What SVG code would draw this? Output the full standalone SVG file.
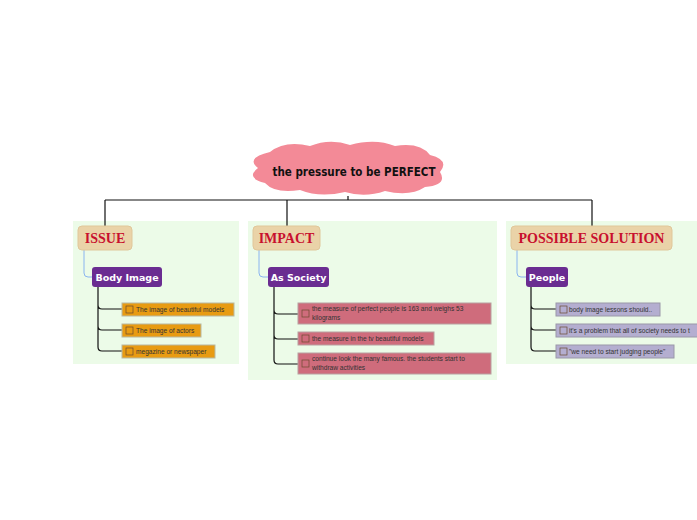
<svg xmlns="http://www.w3.org/2000/svg" width="697" height="520" viewBox="0 0 697 520">
<style>
.panel{fill:#ecfbe8}
.cat{fill:#ead3a8;stroke:#e0c79a}
.catt{font-family:"Liberation Serif",serif;font-weight:bold;font-size:14px;fill:#c8102e}
.sub{fill:#6a2c91}
.subt{font-family:"DejaVu Sans",sans-serif;font-weight:bold;font-size:9.5px;fill:#fff}
.or{fill:#e89b12;stroke:#b8b8a0}
.pk{fill:#cf6c7c;stroke:#b8a0a0}
.lv{fill:#b4aed0;stroke:#9a98a8}
.it{font-family:"Liberation Sans",sans-serif;font-size:6.6px;fill:#333}
.cb{fill:none;stroke:#6a4a30;stroke-width:0.7}
.ln{fill:none;stroke:#111;stroke-width:1.2}
.bl{fill:none;stroke:#8ab4f0;stroke-width:1}
</style>
<rect class="panel" x="73" y="221" width="166" height="143"/>
<rect class="panel" x="248" y="221" width="249" height="159"/>
<rect class="panel" x="506" y="221" width="191" height="143"/>
<g id="connectors">
<path class="ln" d="M348 196V200M105 200H592M105 200V226M287 200V226M592 200V226"/>
<path class="bl" d="M84 250V273Q84 277 88 277H92M259 250V273Q259 277 263 277H268M517 250V273Q517 277 521 277H526"/>
<path class="ln" d="M98 287V347Q98 351 102 351H122M98 326Q98 330 102 330H122M98 305Q98 309 102 309H122"/>
<path class="ln" d="M274 287V360Q274 364 278 364H298M274 335Q274 339 278 339H298M274 310Q274 314 278 314H298"/>
<path class="ln" d="M531 287V347Q531 351 535 351H556M531 326Q531 330 535 330H556M531 305Q531 309 535 309H556"/>
</g>
<g id="root">
<path d="M270 152Q285 140 310 146Q330 138 350 145Q375 138 395 146Q420 142 430 155Q450 160 440 172Q448 185 425 187Q410 197 385 191Q365 198 345 192Q320 198 300 190Q275 194 265 183Q245 178 258 168Q245 158 270 152Z" fill="#f38a97"/>
<text x="354" y="176" text-anchor="middle" font-family="'DejaVu Sans Condensed','DejaVu Sans',sans-serif" font-weight="bold" font-size="11.5" fill="#111">the pressure to be PERFECT</text>
</g>
<g id="issue"><rect class="cat" x="78" y="226" width="54" height="24" rx="4"/><text class="catt" x="105" y="243" text-anchor="middle">ISSUE</text></g>
<g id="impact"><rect class="cat" x="253" y="226" width="67" height="24" rx="4"/><text class="catt" x="286.5" y="243" text-anchor="middle">IMPACT</text></g>
<g id="solution"><rect class="cat" x="511" y="226" width="161" height="24" rx="4"/><text class="catt" x="591.5" y="243" text-anchor="middle">POSSIBLE SOLUTION</text></g>
<g id="bodyimage"><rect class="sub" x="92" y="267" width="70" height="20" rx="3"/><text class="subt" x="127" y="281" text-anchor="middle">Body Image</text></g>
<g id="associety"><rect class="sub" x="268" y="267" width="61" height="20" rx="3"/><text class="subt" x="298.5" y="281" text-anchor="middle">As Society</text></g>
<g id="people"><rect class="sub" x="526" y="267" width="42" height="20" rx="3"/><text class="subt" x="547" y="281" text-anchor="middle">People</text></g>
<g id="i1"><rect class="or" x="122" y="303" width="112" height="13"/><rect class="cb" x="126" y="306" width="7" height="7"/><text class="it" x="136" y="312">The image of beautiful models</text></g>
<g id="i2"><rect class="or" x="122" y="324" width="79" height="13"/><rect class="cb" x="126" y="327" width="7" height="7"/><text class="it" x="136" y="333">The image of actors</text></g>
<g id="i3"><rect class="or" x="122" y="345" width="93" height="13"/><rect class="cb" x="126" y="348" width="7" height="7"/><text class="it" x="136" y="354">megazine or newspaper</text></g>
<g id="p1"><rect class="pk" x="298" y="303" width="193" height="21"/><rect class="cb" x="302" y="310" width="7" height="7"/><text class="it" x="312" y="311">the measure of perfect people is 163 and weighs 53</text><text class="it" x="312" y="320">kilograms</text></g>
<g id="p2"><rect class="pk" x="298" y="332" width="136" height="13"/><rect class="cb" x="302" y="335" width="7" height="7"/><text class="it" x="312" y="341">the measure in the tv beautiful models</text></g>
<g id="p3"><rect class="pk" x="298" y="353" width="193" height="21"/><rect class="cb" x="302" y="360" width="7" height="7"/><text class="it" x="312" y="361">continue look the many famous. the students start to</text><text class="it" x="312" y="370">withdraw activities</text></g>
<g id="s1"><rect class="lv" x="556" y="303" width="104" height="13"/><rect class="cb" x="560" y="306" width="7" height="7"/><text class="it" x="569" y="312">body image lessons should..</text></g>
<g id="s2"><rect class="lv" x="556" y="324" width="145" height="13"/><rect class="cb" x="560" y="327" width="7" height="7"/><text class="it" x="569" y="333">it's a problem that all of society needs to t</text></g>
<g id="s3"><rect class="lv" x="556" y="345" width="118" height="13"/><rect class="cb" x="560" y="348" width="7" height="7"/><text class="it" x="569" y="354">"we need to start judging people"</text></g>
</svg>
